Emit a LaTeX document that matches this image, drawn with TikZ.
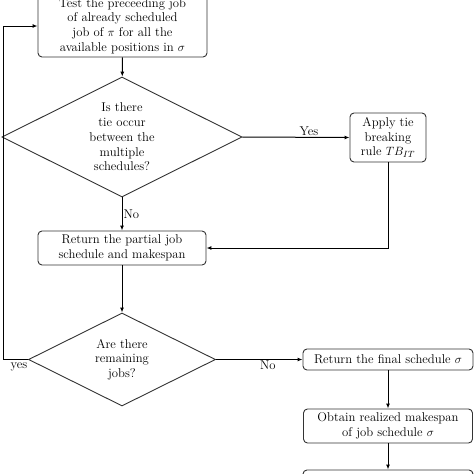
\documentclass[tikz,border=0pt]{standalone}
\usetikzlibrary{shapes.geometric,arrows.meta}
\tikzset{
  base/.style={font=\fontsize{12.7}{14.7}\selectfont, align=center, inner sep=0pt},
  proc/.style={base, draw=black!80, line width=0.9pt, rounded corners=4pt},
  decis/.style={base, draw=black!80, line width=0.9pt, shape=diamond, aspect=2},
  arr/.style={-{Latex[length=5pt,width=4pt]}, line width=1pt},
  lbl/.style={font=\fontsize{12.7}{14.7}\selectfont, inner sep=1pt}
}
\begin{document}
\begin{tikzpicture}[x=1pt,y=-1pt]
\useasboundingbox (0,0) rectangle (474,474);
\clip (0,0) rectangle (474,474);
\node[proc, minimum width=169pt, minimum height=62pt] (b1) at (122.5,26)
  {Test the preceeding job\\of already scheduled\\job of $\pi$ for all the\\available positions in $\sigma$};
\node[decis, minimum width=240pt, minimum height=120pt] (d1) at (122,137)
  {Is there\\tie occur\\between the\\multiple\\schedules?};
\node[proc, minimum width=76pt, minimum height=49pt] (b3) at (388,137.5)
  {Apply tie\\breaking\\rule $TB_{IT}$};
\node[proc, minimum width=168pt, minimum height=34pt] (b2) at (122,248)
  {Return the partial job\\schedule and makespan};
\node[decis, minimum width=187pt, minimum height=93pt] (d2) at (122,359.5)
  {Are there\\remaining\\jobs?};
\node[proc, minimum width=170pt, minimum height=21pt] (b4) at (388,359.5)
  {Return the final schedule $\sigma$};
\node[proc, minimum width=169pt, minimum height=34pt] (b5) at (388,426)
  {Obtain realized makespan\\of job schedule $\sigma$};
\node[proc, minimum width=170pt, minimum height=34pt] (b6) at (388,487) {};
\coordinate (lp) at (3,0);

\draw[arr] (b1) -- (d1);
\draw[arr] (d1.east) -- node[lbl, above, pos=0.62] (yes1) {Yes} (b3.west);
\draw[arr] (d1.south) -- node[lbl, right, pos=0.5] (no1) {No} (b2.north);
\draw[arr] (b3.south) |- (b2.east);
\draw[arr] (b2) -- (d2);
\draw[arr] (d2.east) -- node[lbl, below, pos=0.6] (no2) {No} (b4.west);
\draw[arr] (d2.west) -- node[lbl, below, pos=0.36, yshift=-2pt] (yes2) {yes} (d2.west -| lp) |- (b1.west);
\draw[arr] (b4) -- (b5);
\draw[arr] (b5) -- (b6);
\end{tikzpicture}
\end{document}
